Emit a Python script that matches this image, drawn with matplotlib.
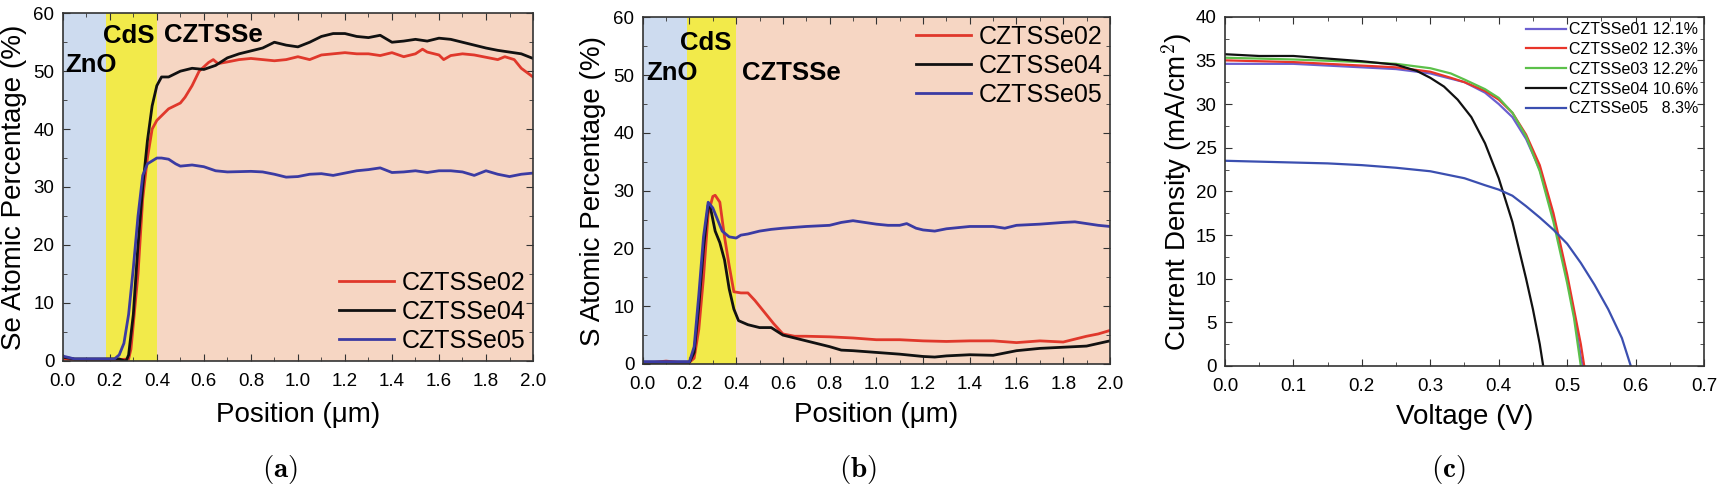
import matplotlib.pyplot as plt
from matplotlib.ticker import MultipleLocator

plt.rcParams['font.family'] = ['Liberation Sans', 'DejaVu Sans']
plt.rcParams['mathtext.fontset'] = 'cm'

# ---- (a) Se profile ----
se_x02 = [0, 0.05, 0.1, 0.15, 0.2, 0.25, 0.28, 0.29, 0.32, 0.34, 0.36, 0.38, 0.40, 0.45, 0.5, 0.52,
          0.55, 0.58, 0.62, 0.64, 0.66, 0.7, 0.75, 0.8, 0.85, 0.9, 0.95, 1.0, 1.05, 1.1, 1.15, 1.2,
          1.25, 1.3, 1.35, 1.4, 1.45, 1.5, 1.53, 1.55, 1.6, 1.62, 1.65, 1.7, 1.75, 1.8, 1.85, 1.88,
          1.92, 1.95, 2.0]
se_y02 = [0.3, 0.2, 0.2, 0.2, 0.2, 0.2, 0.3, 2, 15, 28, 35, 40, 41.5, 43.5, 44.5, 45.5,
          47.5, 50, 51.5, 52, 51.3, 51.6, 52, 52.2, 52, 51.8, 52, 52.5, 52, 52.8, 53, 53.2,
          53, 53, 52.7, 53.2, 52.5, 53, 53.8, 53.3, 52.8, 52, 52.7, 53, 52.8, 52.4, 52, 52.5,
          52, 50.5, 49]
se_x04 = [0, 0.05, 0.1, 0.15, 0.2, 0.24, 0.26, 0.27, 0.28, 0.30, 0.32, 0.34, 0.36, 0.38, 0.40, 0.42,
          0.45, 0.5, 0.55, 0.6, 0.65, 0.7, 0.75, 0.8, 0.85, 0.9, 0.95, 1.0, 1.05, 1.1, 1.15, 1.2,
          1.25, 1.3, 1.35, 1.4, 1.45, 1.5, 1.55, 1.6, 1.65, 1.7, 1.75, 1.8, 1.85, 1.9, 1.95, 2.0]
se_y04 = [0.6, 0.3, 0.3, 0.3, 0.3, 0.3, 0, 0, 1, 8, 20, 30, 38, 44, 47.5, 49,
          49, 50, 50.5, 50.3, 51, 52.3, 53, 53.5, 54, 55, 54.5, 54.2, 55, 56, 56.5, 56.5,
          56, 55.8, 56.2, 55, 55.2, 55.5, 55.2, 55.7, 55.5, 55, 54.5, 54, 53.6, 53.3, 53, 52.2]
se_x05 = [0, 0.05, 0.1, 0.15, 0.2, 0.22, 0.24, 0.26, 0.28, 0.30, 0.32, 0.34, 0.36, 0.38, 0.40, 0.42,
          0.45, 0.48, 0.5, 0.55, 0.6, 0.65, 0.7, 0.8, 0.85, 0.9, 0.95, 1.0, 1.05, 1.1, 1.15, 1.2,
          1.25, 1.3, 1.35, 1.4, 1.45, 1.5, 1.55, 1.6, 1.65, 1.7, 1.75, 1.8, 1.85, 1.9, 1.95, 2.0]
se_y05 = [0.8, 0.3, 0.3, 0.3, 0.3, 0.3, 1, 3, 8, 16, 25, 32, 34, 34.5, 35, 35,
          34.8, 34, 33.6, 33.8, 33.5, 32.8, 32.6, 32.7, 32.6, 32.2, 31.7, 31.8, 32.2, 32.3, 32, 32.4,
          32.8, 33, 33.3, 32.5, 32.6, 32.8, 32.5, 32.8, 32.8, 32.6, 32, 32.8, 32.2, 31.8, 32.2, 32.4]

# ---- (b) S profile ----
s_x02 = [0, 0.05, 0.1, 0.15, 0.2, 0.22, 0.24, 0.26, 0.28, 0.30, 0.31, 0.33, 0.35, 0.37, 0.39, 0.42,
         0.45, 0.48, 0.52, 0.56, 0.6, 0.65, 0.7, 0.8, 0.9, 1.0, 1.1, 1.2, 1.3, 1.4, 1.5, 1.6,
         1.7, 1.8, 1.85, 1.9, 1.95, 2.0]
s_y02 = [0.3, 0.3, 0.5, 0.3, 0.3, 1, 6, 15, 26, 29, 29.2, 28, 22, 17, 12.5, 12.3,
         12.3, 11, 9, 7, 5.2, 4.8, 4.8, 4.7, 4.5, 4.2, 4.2, 4, 3.9, 4, 4, 3.7,
         4, 3.8, 4.3, 4.8, 5.2, 5.8]
s_x04 = [0, 0.05, 0.1, 0.15, 0.2, 0.22, 0.24, 0.26, 0.28, 0.29, 0.31, 0.33, 0.35, 0.37, 0.39, 0.41,
         0.45, 0.5, 0.55, 0.6, 0.65, 0.7, 0.8, 0.85, 0.9, 1.0, 1.1, 1.2, 1.25, 1.3, 1.4, 1.5,
         1.6, 1.7, 1.8, 1.9, 2.0]
s_y04 = [0.3, 0.3, 0.3, 0.3, 0.3, 2, 10, 20, 27.5, 27, 23, 21, 18, 13, 9.5, 7.5,
         6.8, 6.3, 6.3, 5, 4.5, 4, 3, 2.4, 2.3, 2, 1.7, 1.3, 1.2, 1.4, 1.6, 1.5,
         2.3, 2.7, 2.9, 3.1, 4]
s_x05 = [0, 0.05, 0.1, 0.15, 0.2, 0.22, 0.24, 0.26, 0.28, 0.30, 0.32, 0.34, 0.37, 0.40, 0.42, 0.45,
         0.5, 0.55, 0.6, 0.7, 0.8, 0.85, 0.9, 0.95, 1.0, 1.05, 1.1, 1.13, 1.17, 1.2, 1.25, 1.3,
         1.4, 1.5, 1.55, 1.6, 1.7, 1.8, 1.85, 1.9, 1.95, 2.0]
s_y05 = [0.4, 0.4, 0.4, 0.4, 0.4, 3, 12, 22, 28, 27, 25, 23, 22, 21.8, 22.3, 22.5,
         23, 23.3, 23.5, 23.8, 24, 24.5, 24.8, 24.5, 24.2, 24, 24, 24.3, 23.5, 23.2, 23, 23.4,
         23.8, 23.8, 23.5, 24, 24.2, 24.5, 24.6, 24.3, 24, 23.8]

# ---- (c) J-V ----
jv_v01 = [0, 0.1, 0.2, 0.25, 0.3, 0.35, 0.38, 0.40, 0.42, 0.44, 0.46, 0.48, 0.50, 0.51, 0.52, 0.523]
jv_j01 = [34.6, 34.6, 34.2, 34.0, 33.5, 32.5, 31.3, 30.0, 28.5, 26.0, 22.5, 17.0, 10.0, 6.0, 1.0, 0]
jv_v02 = [0, 0.05, 0.1, 0.15, 0.2, 0.25, 0.3, 0.33, 0.35, 0.38, 0.40, 0.42, 0.44, 0.46, 0.48, 0.49,
          0.50, 0.51, 0.52, 0.525]
jv_j02 = [35.0, 34.9, 34.8, 34.6, 34.4, 34.2, 33.7, 33.0, 32.5, 31.5, 30.5, 29.0, 26.5, 23.0, 17.5, 14.0,
          10.5, 6.5, 2.5, 0]
jv_v03 = [0, 0.1, 0.2, 0.25, 0.3, 0.33, 0.35, 0.38, 0.40, 0.42, 0.44, 0.46, 0.48, 0.49, 0.50, 0.51, 0.52]
jv_j03 = [35.3, 35.1, 34.8, 34.6, 34.1, 33.5, 32.8, 31.7, 30.7, 29.0, 26.3, 22.3, 16.5, 13.0, 9.5, 5.5, 0]
jv_v04 = [0, 0.05, 0.1, 0.15, 0.2, 0.25, 0.28, 0.3, 0.32, 0.34, 0.36, 0.38, 0.40, 0.42, 0.44, 0.45,
          0.46, 0.465]
jv_j04 = [35.7, 35.5, 35.5, 35.2, 34.9, 34.5, 33.8, 33.0, 32.0, 30.5, 28.5, 25.5, 21.5, 16.5, 10.0, 6.5,
          2.5, 0]
jv_v05 = [0, 0.05, 0.1, 0.15, 0.2, 0.25, 0.3, 0.35, 0.38, 0.40, 0.42, 0.44, 0.46, 0.48, 0.50, 0.52,
          0.54, 0.56, 0.58, 0.593]
jv_j05 = [23.5, 23.4, 23.3, 23.2, 23.0, 22.7, 22.3, 21.5, 20.7, 20.2, 19.5, 18.3, 17.0, 15.6, 14.0, 11.8,
          9.3, 6.5, 3.2, 0]
jv_labels = ['CZTSSe01 12.1%', 'CZTSSe02 12.3%', 'CZTSSe03 12.2%', 'CZTSSe04 10.6%', 'CZTSSe05   8.3%']

RED, BLACK, BLUE = '#e0382b', '#111111', '#3b3ba3'
fig = plt.figure(figsize=(17.2, 4.92), dpi=100)
ax_a = fig.add_axes([0.0365, 0.2669, 0.2734, 0.7061])
ax_b = fig.add_axes([0.3737, 0.2602, 0.2716, 0.7046])
ax_c = fig.add_axes([0.7122, 0.2561, 0.2785, 0.7100])


def style(ax):
    ax.tick_params(which='both', direction='in', top=True, right=True, labelsize=13.5,
                   color='#333333')
    ax.tick_params(axis='x', pad=9)
    ax.tick_params(axis='y', pad=6)
    ax.tick_params(which='major', length=5)
    ax.tick_params(which='minor', length=3)
    for s in ax.spines.values():
        s.set_color('#333333')
        s.set_linewidth(1.2)


def profile(ax, zno_end, regions):
    ax.axvspan(0, zno_end, color='#cddbef', lw=0)
    ax.axvspan(zno_end, 0.40, color='#f2ea4a', lw=0)
    ax.axvspan(0.40, 2.0, color='#f6d6c3', lw=0)
    for txt, x, y in regions:
        ax.text(x, y, txt, fontsize=18.5, fontweight='bold', color='black')
    ax.set_xlim(0, 2.0)
    ax.set_ylim(0, 60)
    ax.xaxis.set_major_locator(MultipleLocator(0.2))
    ax.xaxis.set_minor_locator(MultipleLocator(0.1))
    ax.yaxis.set_major_locator(MultipleLocator(10))
    ax.yaxis.set_minor_locator(MultipleLocator(5))
    ax.set_xlabel('Position (μm)', fontsize=20)
    style(ax)


# (a)
profile(ax_a, 0.185, [('ZnO', 0.01, 49.9), ('CdS', 0.17, 54.8), ('CZTSSe', 0.43, 55.1)])
ax_a.plot(se_x02, se_y02, color=RED, lw=2, label='CZTSSe02')
ax_a.plot(se_x04, se_y04, color=BLACK, lw=2, label='CZTSSe04')
ax_a.plot(se_x05, se_y05, color=BLUE, lw=2, label='CZTSSe05')
ax_a.set_ylabel('Se Atomic Percentage (%)', fontsize=20)
ax_a.yaxis.set_label_coords(-0.076, 0.5)
ax_a.xaxis.set_label_coords(0.5, -0.12)
ax_a.legend(loc='lower right', frameon=False, fontsize=18, handlelength=2.2,
            handletextpad=0.3, labelspacing=0.2, borderaxespad=0.1, borderpad=0.2)

# (b)
profile(ax_b, 0.19, [('ZnO', 0.013, 49.2), ('CdS', 0.158, 54.4), ('CZTSSe', 0.425, 49.2)])
ax_b.plot(s_x02, s_y02, color=RED, lw=2, label='CZTSSe02')
ax_b.plot(s_x04, s_y04, color=BLACK, lw=2, label='CZTSSe04')
ax_b.plot(s_x05, s_y05, color=BLUE, lw=2, label='CZTSSe05')
ax_b.set_ylabel('S Atomic Percentage (%)', fontsize=20)
ax_b.yaxis.set_label_coords(-0.0785, 0.5)
ax_b.xaxis.set_label_coords(0.5, -0.11)
ax_b.legend(loc='upper right', frameon=False, fontsize=18, handlelength=2.2,
            handletextpad=0.3, labelspacing=0.2, borderaxespad=0.1, borderpad=0.2)

# (c)
ax_c.plot(jv_v01, jv_j01, color='#6c5fd0', lw=1.6, label=jv_labels[0])
ax_c.plot(jv_v02, jv_j02, color='#e8352a', lw=1.6, label=jv_labels[1])
ax_c.plot(jv_v03, jv_j03, color='#5cc04a', lw=1.6, label=jv_labels[2])
ax_c.plot(jv_v04, jv_j04, color=BLACK, lw=1.6, label=jv_labels[3])
ax_c.plot(jv_v05, jv_j05, color='#3b4fb0', lw=1.6, label=jv_labels[4])
ax_c.set_xlim(0, 0.7)
ax_c.set_ylim(0, 40)
ax_c.xaxis.set_major_locator(MultipleLocator(0.1))
ax_c.xaxis.set_minor_locator(MultipleLocator(0.05))
ax_c.yaxis.set_major_locator(MultipleLocator(5))
ax_c.yaxis.set_minor_locator(MultipleLocator(2.5))
ax_c.set_xlabel('Voltage (V)', fontsize=20)
ax_c.set_ylabel(r'Current Density (mA/cm$^2$)', fontsize=20)
ax_c.yaxis.set_label_coords(-0.065, 0.5)
ax_c.xaxis.set_label_coords(0.5, -0.11)
style(ax_c)
ax_c.legend(loc='upper right', frameon=False, fontsize=11.5, handlelength=2.5,
            handletextpad=0.2, labelspacing=0.3, borderaxespad=0.15, borderpad=0.2)

for lab, x in [('(a)', 0.163), ('(b)', 0.499), ('(c)', 0.842)]:
    fig.text(x, 0.045, r'$\mathbf{' + lab + '}$', fontsize=21, ha='center', va='center')

fig.savefig('out.png', dpi=100)
